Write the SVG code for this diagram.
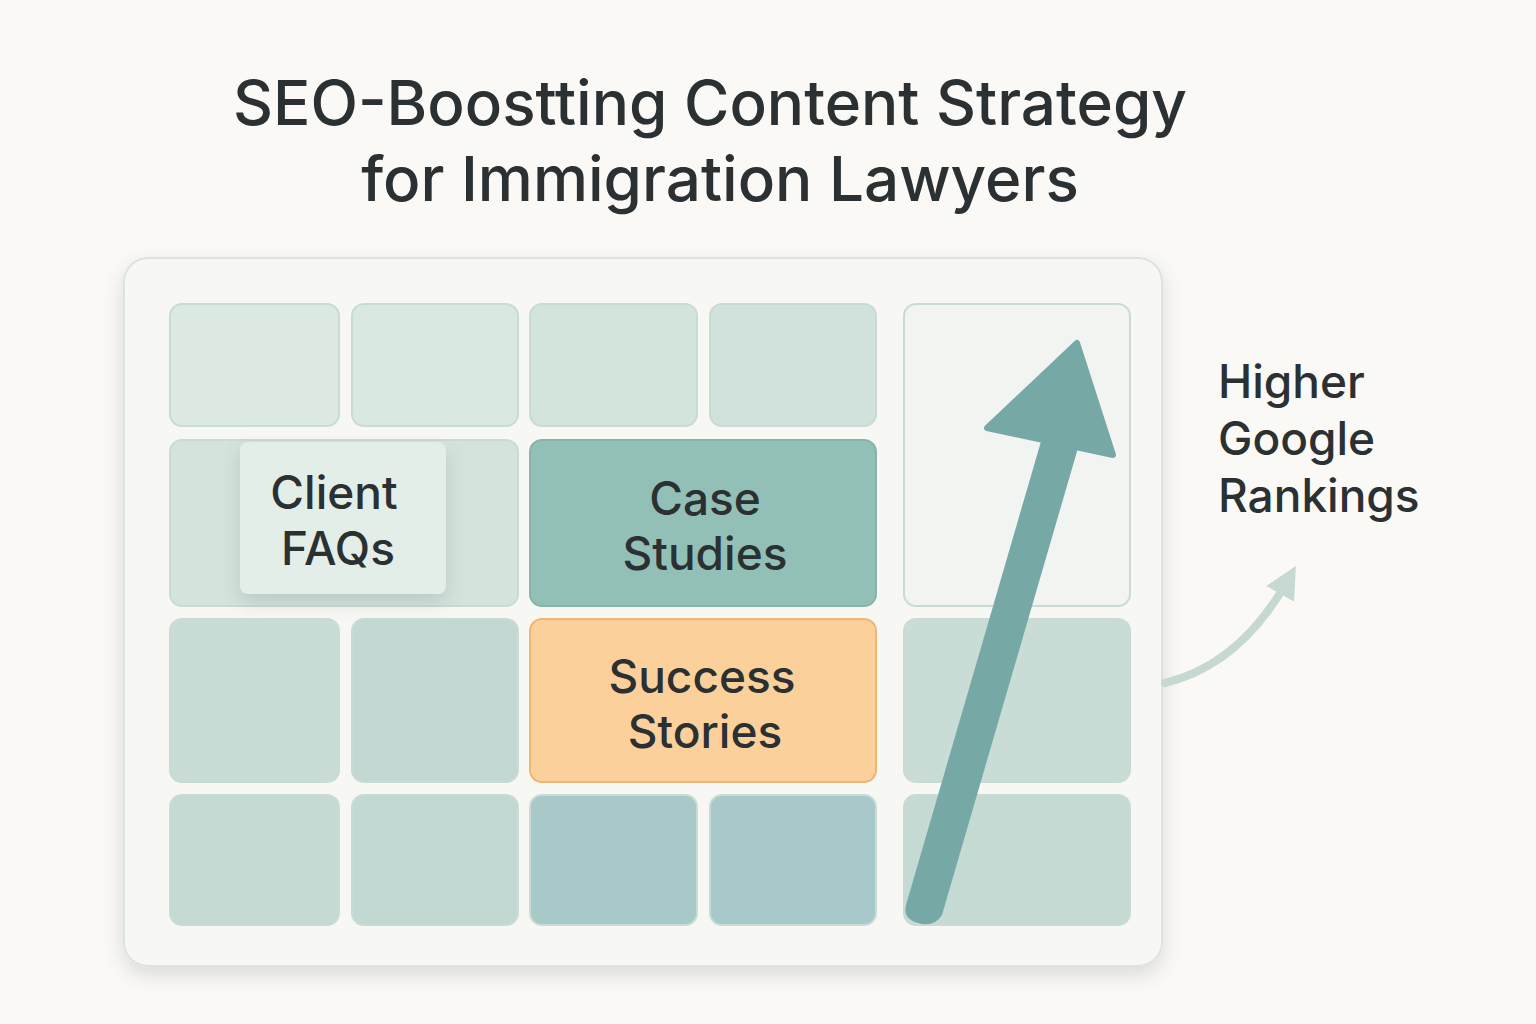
<svg xmlns="http://www.w3.org/2000/svg" width="1536" height="1024" viewBox="0 0 1536 1024">
<defs>
<style>
.t{font-family:Inter,"Noto Sans",sans-serif;fill:#2b3032;font-weight:500}
.c{stroke:#c9dbd5;stroke-width:2}
</style>
<filter id="sh" x="-20%" y="-20%" width="140%" height="140%"><feDropShadow dx="0" dy="8" stdDeviation="10" flood-color="#000" flood-opacity="0.12"/></filter>
<linearGradient id="g" x1="0" y1="0" x2="1" y2="1"><stop offset="0" stop-color="#dceae3"/><stop offset="1" stop-color="#b9d2cf"/></linearGradient>
<marker id="ah" viewBox="0 0 10 10" refX="5" refY="5" markerWidth="4" markerHeight="4" orient="auto"><path d="M0,0 L10,5 L0,10 z" fill="#c5d8d2"/></marker>
</defs>
<rect width="1536" height="1024" fill="#faf9f5"/>
<text class="t" x="710" y="125" font-size="62" text-anchor="middle">SEO-Boostting Content Strategy</text>
<text class="t" x="720" y="201" font-size="62" text-anchor="middle">for Immigration Lawyers</text>
<g id="panel"><rect x="124" y="258" width="1038" height="708" rx="24" fill="#f7f7f4" stroke="#dde3df" stroke-width="2" filter="url(#sh)"/></g>
<g id="grid">
<rect class="c" x="170" y="304" width="169" height="122" rx="12" fill="#dceae2"/>
<rect class="c" x="352" y="304" width="166" height="122" rx="12" fill="#d9e8e0"/>
<rect class="c" x="530" y="304" width="167" height="122" rx="12" fill="#d3e4dd"/>
<rect class="c" x="710" y="304" width="166" height="122" rx="12" fill="#d0e2db"/>
<rect class="c" x="904" y="304" width="226" height="302" rx="12" fill="#f1f4f1"/>
<rect class="c" x="170" y="440" width="348" height="166" rx="12" fill="#d4e4dd"/>
<rect class="c" x="170" y="619" width="169" height="163" rx="12" fill="#c9dcd6"/>
<rect class="c" x="352" y="619" width="166" height="163" rx="12" fill="#c3d8d3"/>
<rect class="c" x="904" y="619" width="226" height="163" rx="12" fill="#cadcd6"/>
<rect class="c" x="170" y="795" width="169" height="130" rx="12" fill="#c6dad4"/>
<rect class="c" x="352" y="795" width="166" height="130" rx="12" fill="#c2d8d2"/>
<rect class="c" x="530" y="795" width="167" height="130" rx="12" fill="#a9c9c8"/>
<rect class="c" x="710" y="795" width="166" height="130" rx="12" fill="#a8c8c9"/>
<rect class="c" x="904" y="795" width="226" height="130" rx="12" fill="#c6dad4"/>
</g>
<g id="case"><rect x="530" y="440" width="346" height="166" rx="12" fill="#92c0b6" stroke="#86b4ab" stroke-width="2"/>
<text class="t" x="705" y="515" font-size="46" text-anchor="middle">Case</text>
<text class="t" x="705" y="570" font-size="46" text-anchor="middle">Studies</text></g>
<g id="success"><rect x="530" y="619" width="346" height="163" rx="12" fill="#fcd09b" stroke="#f0b474" stroke-width="2"/>
<text class="t" x="702" y="693" font-size="46" text-anchor="middle">Success</text>
<text class="t" x="705" y="748" font-size="46" text-anchor="middle">Stories</text></g>
<g id="faq"><rect x="240" y="442" width="206" height="152" rx="8" fill="#e4eee8" filter="url(#sh)"/>
<text class="t" x="334" y="509" font-size="46" text-anchor="middle">Client</text>
<text class="t" x="338" y="565" font-size="46" text-anchor="middle">FAQs</text></g>
<g id="connectors">
<path d="M906,905 L1042,438 L1078,448 L942,915 Q935,926 922,924 Q902,920 906,905 z" fill="#76a9a6"/>
<polygon points="987,428 1077,343 1113,455" fill="#76a9a6" stroke="#76a9a6" stroke-width="6" stroke-linejoin="round"/>
<path d="M1165,683 Q1240,665 1288,580" fill="none" stroke="#c5d8d2" stroke-width="8" stroke-linecap="round" marker-end="url(#ah)"/>
</g>
<g id="label">
<text class="t" x="1218" y="398" font-size="46">Higher</text>
<text class="t" x="1218" y="455" font-size="46">Google</text>
<text class="t" x="1218" y="512" font-size="46">Rankings</text>
</g>
</svg>
